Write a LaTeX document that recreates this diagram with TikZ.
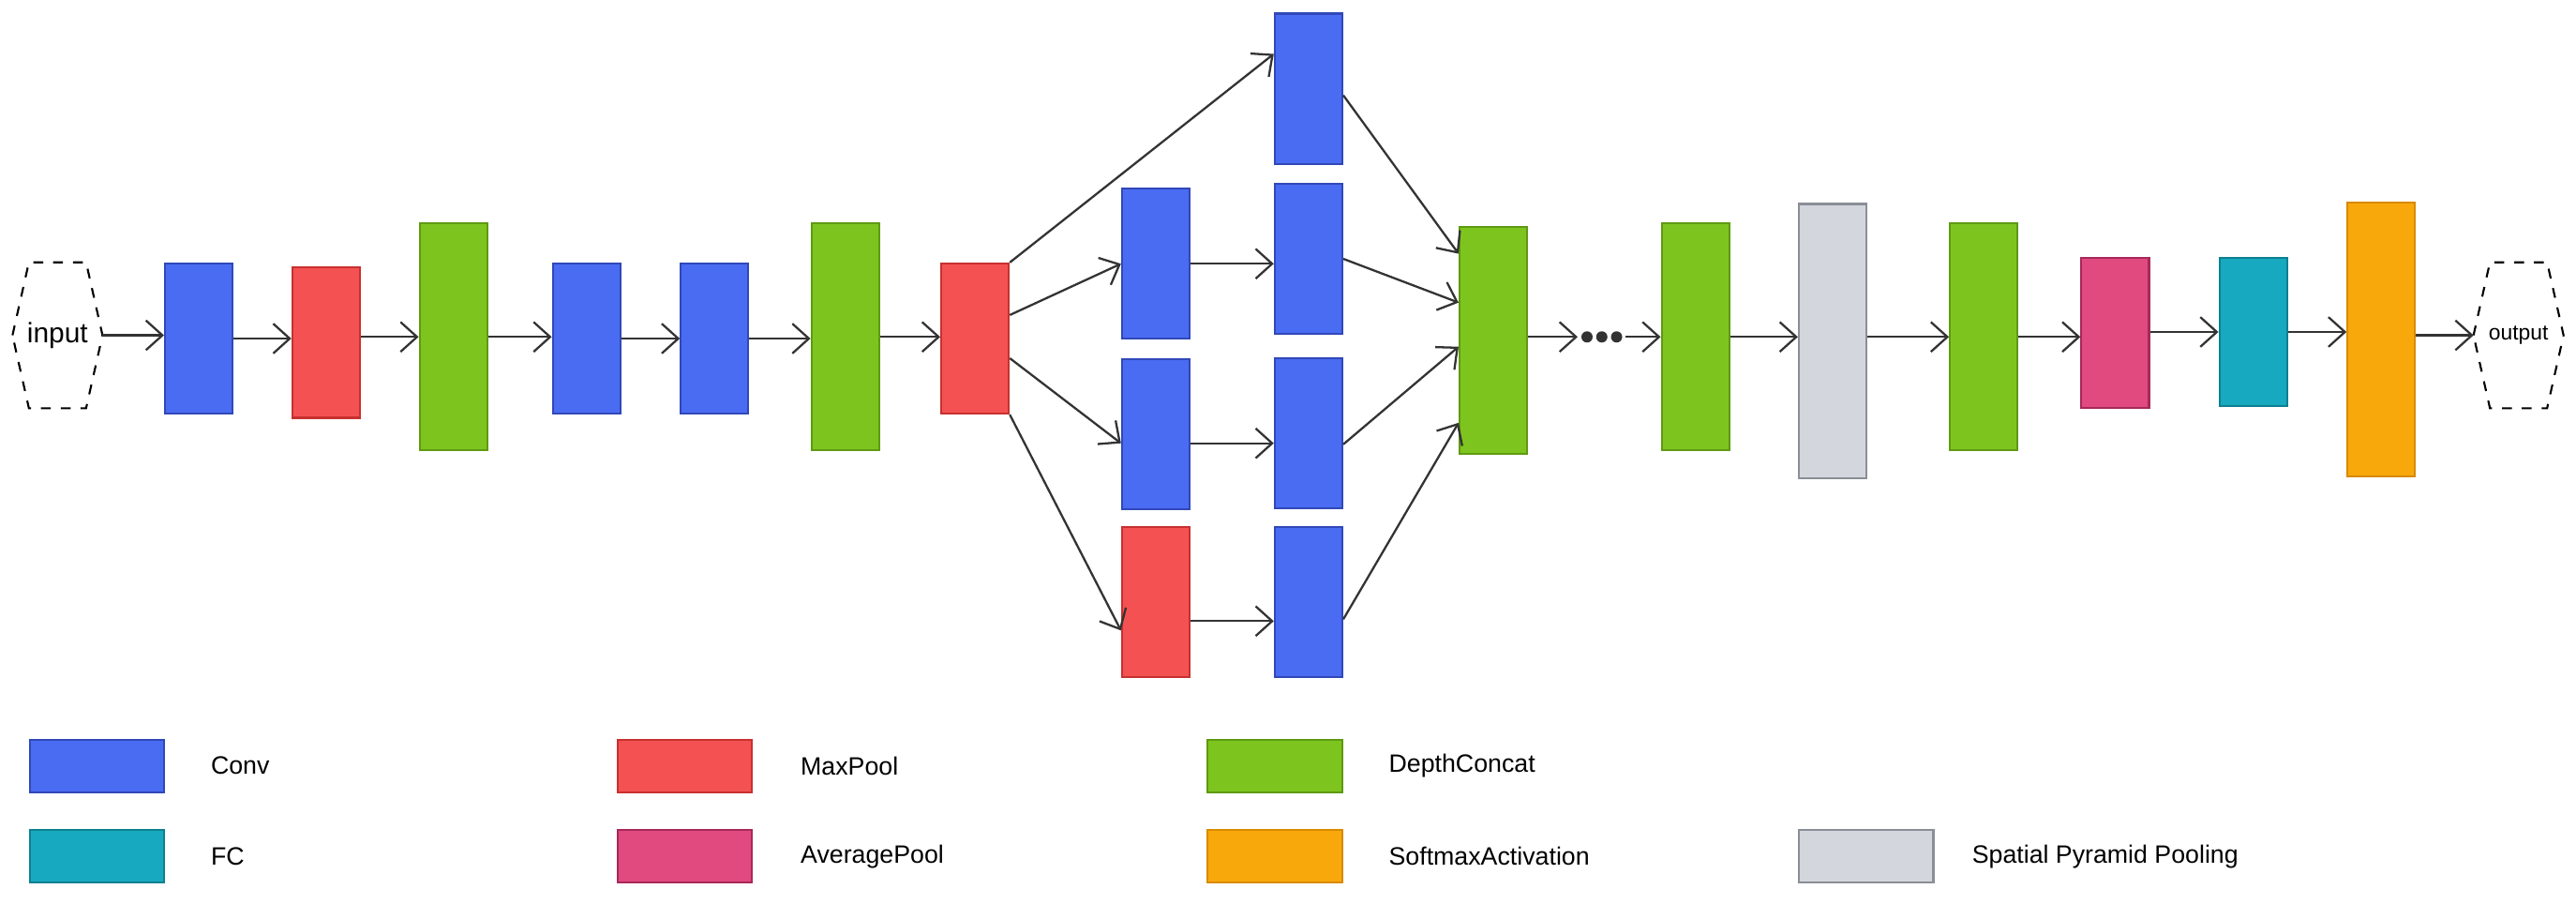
\documentclass[tikz,border=0pt]{standalone}
\usepackage{fontspec}
\setmainfont{Liberation Sans}
\usetikzlibrary{arrows.meta}
\definecolor{convc}{HTML}{4A6CF2}\definecolor{convd}{HTML}{3048B8}
\definecolor{mpc}{HTML}{F45252}\definecolor{mpd}{HTML}{C83030}
\definecolor{dcc}{HTML}{7EC41F}\definecolor{dcd}{HTML}{5E9A12}
\definecolor{fcc}{HTML}{16A9BF}\definecolor{fcd}{HTML}{0E8090}
\definecolor{apc}{HTML}{E04A7E}\definecolor{apd}{HTML}{A8285A}
\definecolor{smc}{HTML}{F9A80B}\definecolor{smd}{HTML}{D88A00}
\definecolor{sppc}{HTML}{D3D6DC}\definecolor{sppd}{HTML}{8A8E96}
\definecolor{arr}{HTML}{333333}
\begin{document}
\begin{tikzpicture}[x=0.0175cm,y=-0.0175cm,
  box/.style={rectangle,inner sep=0pt,minimum width=0.72cm,line width=0.6pt},
  conv/.style={box,fill=convc,draw=convd,minimum height=1.6cm},
  mp/.style={box,fill=mpc,draw=mpd,minimum height=1.6cm},
  dc/.style={box,fill=dcc,draw=dcd,minimum height=2.42cm},
  fc/.style={box,fill=fcc,draw=fcd,minimum height=1.58cm},
  ap/.style={box,fill=apc,draw=apd,minimum height=1.6cm},
  sm/.style={box,fill=smc,draw=smd,minimum height=2.92cm},
  spp/.style={box,fill=sppc,draw=sppd,minimum height=2.92cm},
  leg/.style={rectangle,inner sep=0pt,minimum width=1.43cm,minimum height=0.56cm,line width=0.6pt},
  ltext/.style={anchor=west,font=\fontsize{7.6}{9}\selectfont,inner sep=0pt},
  hex/.style={minimum width=0.945cm,minimum height=1.54cm,inner sep=0pt},
  a/.style={draw=arr,line width=0.65pt,-{Straight Barb[length=5pt,width=9pt,line width=0.65pt]}}]
\useasboundingbox (0,0) rectangle (1568,550);
% input / output
\node[hex,font=\fontsize{8.5}{10}\selectfont] (inp) at (35,204) {input};
\draw[dashed,line width=0.6pt] (inp.west) -- ([xshift=0.175cm]inp.north west) -- ([xshift=-0.175cm]inp.north east) -- (inp.east) -- ([xshift=-0.175cm]inp.south east) -- ([xshift=0.175cm]inp.south west) -- cycle;
\node[hex,font=\fontsize{6.5}{8}\selectfont] (out) at (1533,204) {output};
\draw[dashed,line width=0.6pt] (out.west) -- ([xshift=0.175cm]out.north west) -- ([xshift=-0.175cm]out.north east) -- (out.east) -- ([xshift=-0.175cm]out.south east) -- ([xshift=0.175cm]out.south west) -- cycle;
% main row
\node[conv] (c1) at (121,206) {};
\node[mp] (m1) at (198.5,208.5) {};
\node[dc] (d1) at (276,205) {};
\node[conv] (c2) at (357,206) {};
\node[conv] (c3) at (435,206) {};
\node[dc] (d2) at (514.5,205) {};
\node[mp] (mp) at (593.5,206) {};
\node[conv] (b1) at (703.5,160.5) {};
\node[conv] (b2) at (703.5,264) {};
\node[mp] (b3) at (703.5,366.5) {};
\node[conv] (t1) at (796.5,54) {};
\node[conv] (t2) at (796.5,157.5) {};
\node[conv] (t3) at (796.5,263.5) {};
\node[conv] (t4) at (796.5,366.5) {};
\node[dc] (d3) at (909,207) {};
\node[minimum width=0.5cm,inner sep=0pt] (dots) at (975,205) {};
\foreach \dx in {-9,0,9} \fill[arr] ([xshift=\dx*0.0175cm]dots.center) circle (0.06cm);
\node[dc] (d4) at (1032,205) {};
\node[spp] (spp) at (1115.5,207.5) {};
\node[dc] (d5) at (1207.5,205) {};
\node[ap] (ap) at (1287.5,202.5) {};
\node[fc] (fc) at (1371.5,202) {};
\node[sm] (sm) at (1449.5,206.5) {};
% connectors
\draw[a] (inp.east) -- (inp.east -| c1.west);
\draw[a] (c1.east) -- (c1.east -| m1.west);
\draw[a] (m1.east |- d1.center) -- (d1.west);
\draw[a] (d1.east) -- (d1.east -| c2.west);
\draw[a] (c2.east) -- (c3.west);
\draw[a] (c3.east) -- (c3.east -| d2.west);
\draw[a] (d2.east) -- (d2.east -| mp.west);
\draw[a] (mp.north east) -- ([yshift=-0.44cm]t1.north west);
\draw[a] ([yshift=-0.56cm]mp.north east) -- (b1.west);
\draw[a] ([yshift=-1.02cm]mp.north east) -- ([yshift=-0.1cm]b2.west);
\draw[a] (mp.south east) -- ([yshift=-0.3cm]b3.west);
\draw[a] (b1.east) -- (b1.east -| t2.west);
\draw[a] ([yshift=-0.1cm]b2.east) -- ([yshift=-0.1cm]b2.east -| t3.west);
\draw[a] ([yshift=-0.2cm]b3.east) -- ([yshift=-0.2cm]b3.east -| t4.west);
\draw[a] ([yshift=-0.07cm]t1.east) -- ([yshift=-0.3cm]d3.north west);
\draw[a] (t2.east) -- ([yshift=-0.82cm]d3.north west);
\draw[a] ([yshift=-0.12cm]t3.east) -- ([yshift=-1.29cm]d3.north west);
\draw[a] ([yshift=-0.18cm]t4.east) -- ([yshift=-2.1cm]d3.north west);
\draw[a] (d3.east |- dots.center) -- (dots.west);
\draw[a] (dots.east) -- (dots.east -| d4.west);
\draw[a] (d4.east) -- (d4.east -| spp.west);
\draw[a] (spp.east |- d5.center) -- (d5.west);
\draw[a] (d5.east) -- (d5.east -| ap.west);
\draw[a] (ap.east |- fc.center) -- (fc.west);
\draw[a] (fc.east) -- (fc.east -| sm.west);
\draw[a] (sm.east |- out.east) -- (out.west);
% legend
\node[leg,fill=convc,draw=convd] (l1) at (59,466) {};
\node[ltext] (t1l) at (128,466) {Conv};
\node[leg,fill=mpc,draw=mpd] (l2) at (417,466) {};
\node[ltext] (t2l) at (487,466) {MaxPool};
\node[leg,fill=dcc,draw=dcd] (l3) at (776,466) {};
\node[ltext] (t3l) at (845,466) {DepthConcat};
\node[leg,fill=fcc,draw=fcd] (l4) at (59,521) {};
\node[ltext] (t4l) at (128,521) {FC};
\node[leg,fill=apc,draw=apd] (l5) at (417,521) {};
\node[ltext] (t5l) at (487,521) {AveragePool};
\node[leg,fill=smc,draw=smd] (l6) at (776,521) {};
\node[ltext] (t6l) at (845,521) {SoftmaxActivation};
\node[leg,fill=sppc,draw=sppd] (l7) at (1136,521) {};
\node[ltext] (t7l) at (1200,521) {Spatial Pyramid Pooling};
\end{tikzpicture}
\end{document}
